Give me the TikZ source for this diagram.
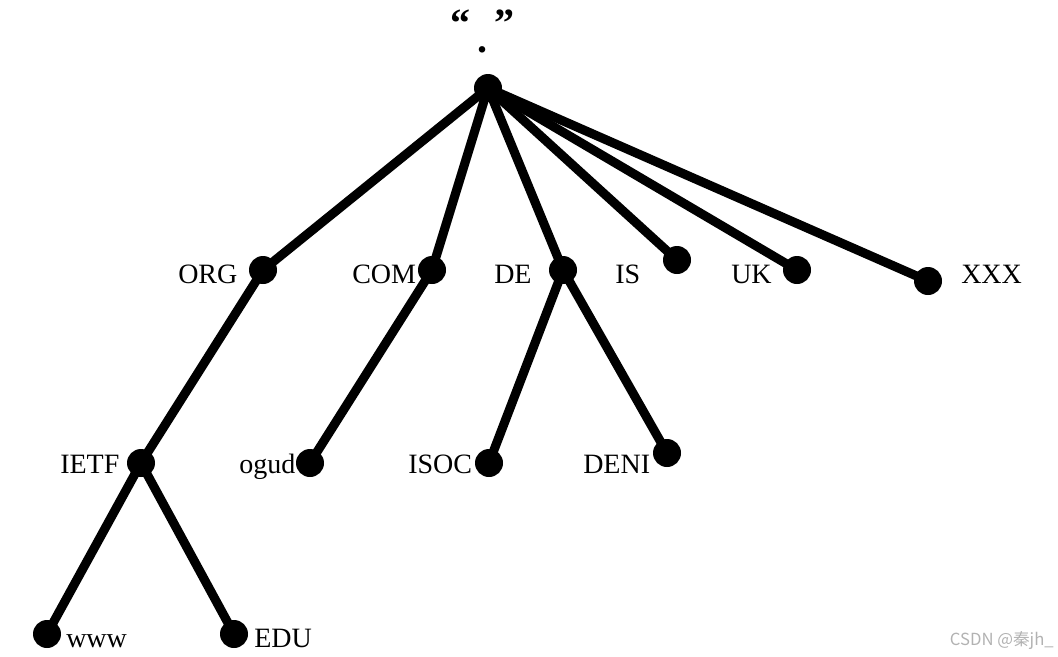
\documentclass[tikz,border=0pt]{standalone}
\usepackage{fontspec}
\setmainfont{Liberation Serif}
\newfontfamily\wmfont{Noto Sans CJK SC}
\begin{document}
\begin{tikzpicture}[x=0.75pt,y=-0.75pt,
  dot/.style={circle,fill=black,inner sep=0pt,minimum size=21pt},
  edge/.style={line width=6.8pt},
  lbl/.style={inner sep=0pt,font=\fontsize{21}{24}\selectfont}]
\useasboundingbox (0,0) rectangle (1058,657);
% nodes
\node[dot] (root) at (488,88) {};
\node[dot] (org) at (263,270) {};
\node[dot] (com) at (432,270) {};
\node[dot] (de) at (563,270) {};
\node[dot] (is) at (677,260) {};
\node[dot] (uk) at (797,270) {};
\node[dot] (xxx) at (928,281) {};
\node[dot] (ietf) at (141,463) {};
\node[dot] (ogud) at (310,463) {};
\node[dot] (isoc) at (489,463) {};
\node[dot] (deni) at (667,453) {};
\node[dot] (www) at (47,634) {};
\node[dot] (edu) at (234,634) {};
% edges
\foreach \c in {org,com,de,is,uk,xxx} \draw[edge] (root.center) -- (\c.center);
\draw[edge] (org.center) -- (ietf.center);
\draw[edge] (com.center) -- (ogud.center);
\draw[edge] (de.center) -- (isoc.center);
\draw[edge] (de.center) -- (deni.center);
\draw[edge] (ietf.center) -- (www.center);
\draw[edge] (ietf.center) -- (edu.center);
% labels
\node[anchor=base,inner sep=0pt,align=center,font=\fontsize{30}{12}\selectfont\bfseries] (top) at (482,52) {“\hspace{0.6em}”\\.};
\node[lbl,anchor=base west] (lorg) at (178,283) {ORG};
\node[lbl,anchor=base west] (lcom) at (352,283) {COM};
\node[lbl,anchor=base west] (lde) at (494,283) {DE};
\node[lbl,anchor=base west] (lis) at (615,283) {IS};
\node[lbl,anchor=base west] (luk) at (731,283) {UK};
\node[lbl,anchor=base west] (lxxx) at (961,283) {XXX};
\node[lbl,anchor=base west] (lietf) at (60,473) {IETF};
\node[lbl,anchor=base west] (logud) at (239,473) {ogud};
\node[lbl,anchor=base west] (lisoc) at (408,473) {ISOC};
\node[lbl,anchor=base west] (ldeni) at (583,473) {DENI};
\node[lbl,anchor=base west] (lwww) at (66,647) {www};
\node[lbl,anchor=base west] (ledu) at (254,647) {EDU};
\node[anchor=base east,inner sep=0pt,text=black!30,font=\wmfont\fontsize{12.5}{14}\selectfont] (wm) at (1054,645) {CSDN @秦jh\_};
\end{tikzpicture}
\end{document}
